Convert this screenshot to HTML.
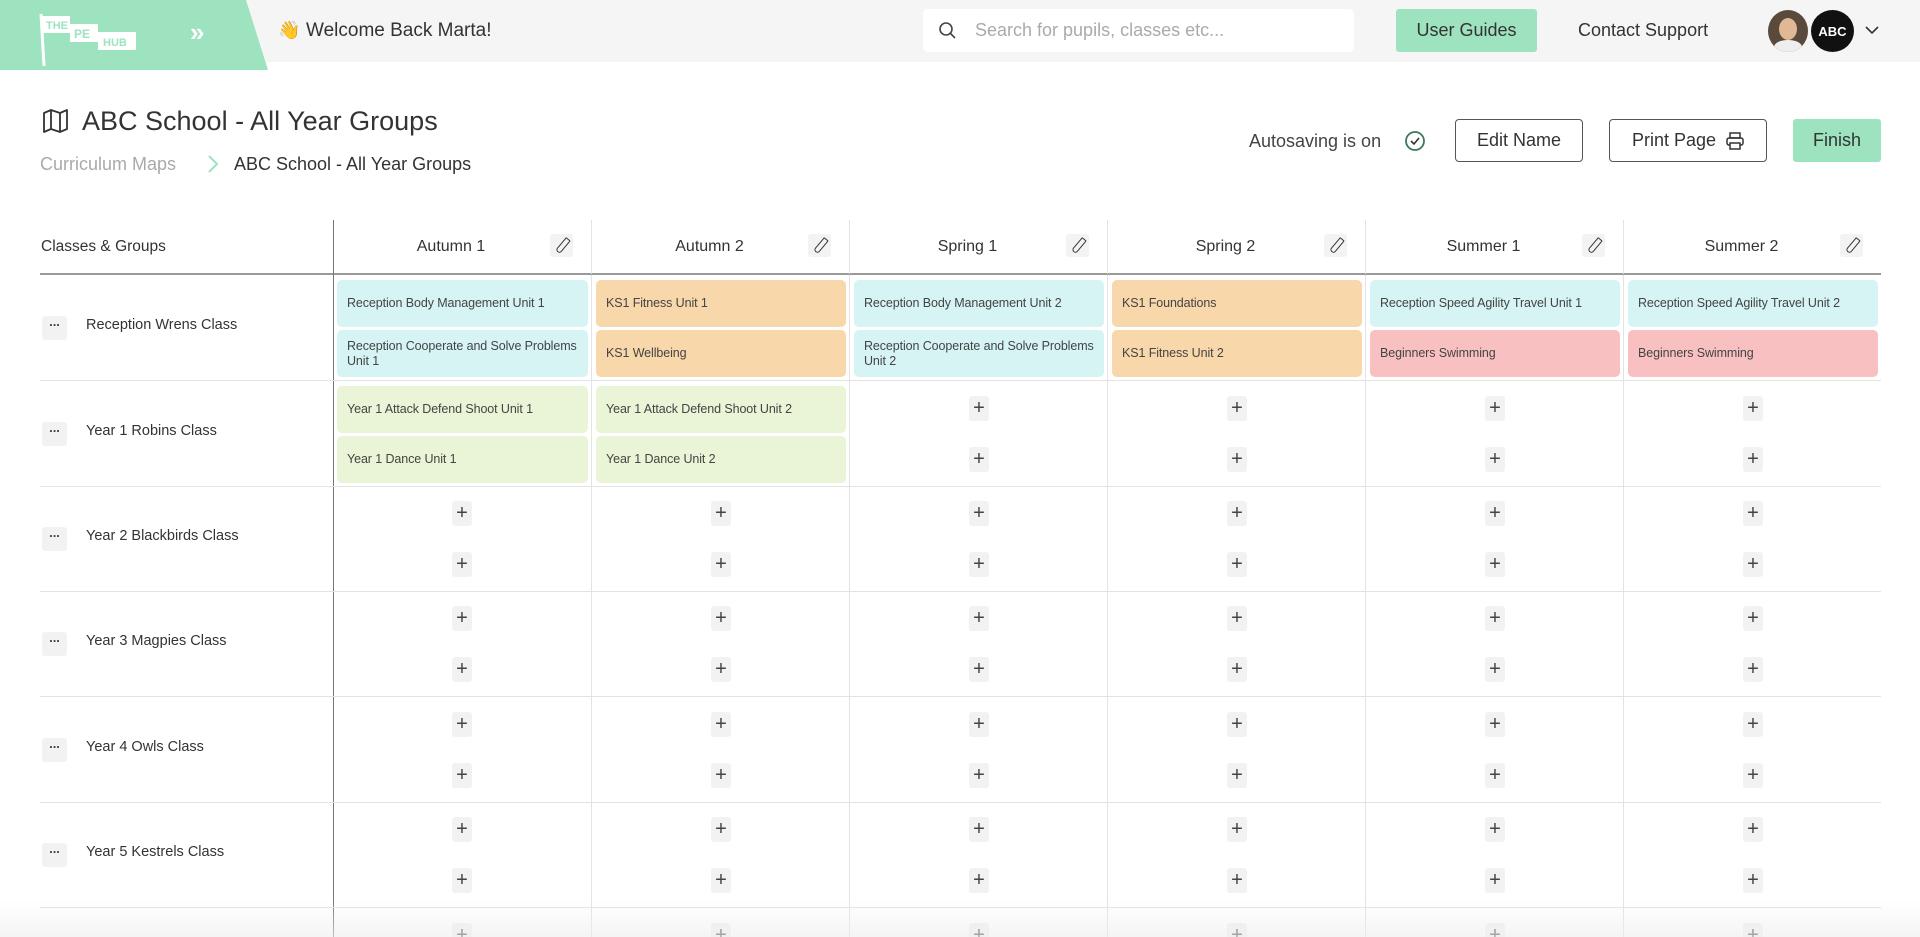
<!DOCTYPE html>
<html style="width:1920px;height:937px;overflow:hidden"><head><meta charset="utf-8">
<style>
*{box-sizing:border-box;margin:0;padding:0}
body{width:1920px;height:937px;overflow:hidden;background:#fff;font-family:"Liberation Sans",sans-serif;color:#333;position:relative}
.top{position:absolute;left:0;top:0;width:1920px;height:62px;background:#f5f5f5}
.green{position:absolute;left:0;top:0;width:268px;height:70px;background:#9de3bf;clip-path:polygon(0 0,246px 0,268px 70px,0 70px)}
.abs{position:absolute}
.btn{position:absolute;border:1.5px solid #555;border-radius:4px;font-size:18px;display:flex;align-items:center;justify-content:center;color:#333;background:#fff}
.row{position:absolute;left:40px;width:1841px;height:106px;border-bottom:1px solid #e3e3e3}
.cell{position:absolute;top:0;height:105px;width:258px;border-left:1px solid #e3e3e3}
.card{position:absolute;left:4px;right:3px;height:47px;border-radius:5px;font-size:12.5px;color:#444;padding:0 10px;display:flex;align-items:center;line-height:15px;letter-spacing:-0.1px}
.s1{top:5px}.s2{top:55px}
.b{background:#d5f4f3}.o{background:#f8d7ab}.g{background:#e9f5d6}.r{background:#f8c0c0}
.plus{position:absolute;left:119px;width:20px;height:25px;background:#f2f2f2;border-radius:3px;font-size:20px;line-height:24px;text-align:center;color:#444}
.p1{top:15px}.p2{top:66px}
.name{position:absolute;left:46px;top:42px;font-size:14.5px;color:#333}
.dots{position:absolute;left:2px;top:41px;width:25px;height:24px;background:#f2f2f2;border-radius:3px;font-size:13px;text-align:center;line-height:12px;font-weight:bold;color:#444}
.hc{position:absolute;top:0;height:54px;width:258px;border-left:1px solid #e3e3e3;font-size:16px;display:flex;align-items:center;justify-content:center;padding-right:22px}
.pen{position:absolute;right:18px;top:14px;width:23px;height:23px;background:#f3f3f3;border-radius:3px}
.pen::before{content:"";position:absolute;left:10px;top:3px;width:4px;height:15px;border:1.5px solid #333;border-radius:1px 1px 3px 3px;transform:rotate(40deg)}
</style></head><body>
<div class="top"></div>
<div class="green"></div>
<svg class="abs" style="left:38px;top:12px" width="105" height="58" viewBox="0 0 105 58"><path d="M3 2 L6 54" stroke="#fff" stroke-width="3"/><rect x="4" y="4" width="28" height="17" fill="#fff"/><text x="8" y="17" font-size="11" font-weight="bold" fill="#9de3bf" font-family="Liberation Sans">THE</text><rect x="32" y="12" width="28" height="18" fill="#fff"/><text x="36" y="26" font-size="12" font-weight="bold" fill="#9de3bf" font-family="Liberation Sans">PE</text><rect x="60" y="20" width="38" height="18" fill="#fff"/><text x="65" y="34" font-size="11" font-weight="bold" fill="#9de3bf" font-family="Liberation Sans">HUB</text></svg>
<div class="abs" style="left:190px;top:17px;color:#fff;font-size:26px;font-weight:bold">»</div>
<div class="abs" style="left:278px;top:20px;font-size:18px">👋</div>
<div class="abs" style="left:306px;top:20px;font-size:19px;color:#333">Welcome Back Marta!</div>
<div class="abs" style="left:923px;top:9px;width:431px;height:43px;background:#fff;border-radius:5px"></div>
<svg class="abs" style="left:938px;top:21px" width="20" height="20"><circle cx="8" cy="8" r="6" stroke="#444" stroke-width="1.6" fill="none"/><path d="M12.5 12.5 L17 17" stroke="#444" stroke-width="1.6"/></svg>
<div class="abs" style="left:975px;top:20px;font-size:18px;color:#aaa">Search for pupils, classes etc...</div>
<div class="abs" style="left:1396px;top:9px;width:141px;height:43px;background:#9de3bf;border-radius:3px;font-size:18px;display:flex;align-items:center;justify-content:center;color:#333">User Guides</div>
<div class="abs" style="left:1578px;top:20px;font-size:18px;color:#333">Contact Support</div>
<div class="abs" style="left:1768px;top:10px;width:40px;height:42px;border-radius:50%;background:#5a4a3c;overflow:hidden"><div style="position:absolute;left:11px;top:8px;width:18px;height:22px;border-radius:50%;background:#e0b896"></div><div style="position:absolute;left:6px;top:30px;width:28px;height:14px;border-radius:50%;background:#eee"></div></div>
<div class="abs" style="left:1811px;top:10px;width:43px;height:42px;border-radius:50%;background:#111;color:#fff;font-size:13px;font-weight:bold;display:flex;align-items:center;justify-content:center">ABC</div>
<svg class="abs" style="left:1864px;top:24px" width="16" height="12"><path d="M2 3 L8 9 L14 3" stroke="#333" stroke-width="1.6" fill="none"/></svg>

<svg class="abs" style="left:42px;top:108px" width="28" height="26"><path d="M2 5 L9 2 L18 5 L25 2 L25 21 L18 24 L9 21 L2 24 Z M9 2 L9 21 M18 5 L18 24" stroke="#333" stroke-width="1.8" fill="none" stroke-linejoin="round"/></svg>
<div class="abs" style="left:82px;top:106px;font-size:27px;color:#333">ABC School - All Year Groups</div>
<div class="abs" style="left:40px;top:154px;font-size:18px;color:#aaa">Curriculum Maps</div>
<svg class="abs" style="left:206px;top:154px" width="14" height="20"><path d="M3 2 L11 10 L3 18" stroke="#9de3bf" stroke-width="2" fill="none"/></svg>
<div class="abs" style="left:234px;top:154px;font-size:18px;color:#333">ABC School - All Year Groups</div>

<div class="abs" style="left:1249px;top:131px;font-size:18px;color:#444">Autosaving is on</div>
<svg class="abs" style="left:1404px;top:130px" width="22" height="22"><circle cx="11" cy="11" r="9" stroke="#3a7a5a" stroke-width="1.8" fill="none"/><path d="M7 11 L10 14 L15 8" stroke="#333" stroke-width="1.6" fill="none"/></svg>
<div class="btn" style="left:1455px;top:119px;width:128px;height:43px">Edit Name</div>
<div class="btn" style="left:1609px;top:119px;width:158px;height:43px">Print Page&nbsp;&nbsp;<svg width="18" height="18"><rect x="4" y="1" width="10" height="5" stroke="#333" stroke-width="1.5" fill="none"/><rect x="1" y="6" width="16" height="7" rx="2" stroke="#333" stroke-width="1.5" fill="none"/><rect x="4" y="11" width="10" height="6" stroke="#333" stroke-width="1.5" fill="#fff"/></svg></div>
<div class="abs" style="left:1793px;top:119px;width:88px;height:43px;background:#9de3bf;border-radius:3px;font-size:18px;display:flex;align-items:center;justify-content:center;color:#333">Finish</div>

<div class="abs" style="left:40px;top:220px;width:1841px;height:55px;border-bottom:2px solid #999">
<div class="abs" style="left:1px;top:18px;font-size:15.5px;color:#333">Classes &amp; Groups</div>
<div class="hc" style="left:293px;border-left:none">Autumn 1<div class="pen"></div></div>
<div class="hc" style="left:551px">Autumn 2<div class="pen"></div></div>
<div class="hc" style="left:809px">Spring 1<div class="pen"></div></div>
<div class="hc" style="left:1067px">Spring 2<div class="pen"></div></div>
<div class="hc" style="left:1325px">Summer 1<div class="pen"></div></div>
<div class="hc" style="left:1583px">Summer 2<div class="pen"></div></div>
</div>
<div class="abs" style="left:333px;top:220px;width:1px;height:717px;background:#777"></div>

<div class="row" style="top:275px"><div class="dots">...</div><div class="name">Reception Wrens Class</div>
<div class="cell" style="left:293px;border-left:none"><div class="card b s1">Reception Body Management Unit 1</div><div class="card b s2">Reception Cooperate and Solve Problems Unit 1</div></div>
<div class="cell" style="left:551px"><div class="card o s1">KS1 Fitness Unit 1</div><div class="card o s2">KS1 Wellbeing</div></div>
<div class="cell" style="left:809px"><div class="card b s1">Reception Body Management Unit 2</div><div class="card b s2">Reception Cooperate and Solve Problems Unit 2</div></div>
<div class="cell" style="left:1067px"><div class="card o s1">KS1 Foundations</div><div class="card o s2">KS1 Fitness Unit 2</div></div>
<div class="cell" style="left:1325px"><div class="card b s1">Reception Speed Agility Travel Unit 1</div><div class="card r s2">Beginners Swimming</div></div>
<div class="cell" style="left:1583px"><div class="card b s1">Reception Speed Agility Travel Unit 2</div><div class="card r s2">Beginners Swimming</div></div>
</div>

<div class="row" style="top:381px"><div class="dots">...</div><div class="name">Year 1 Robins Class</div>
<div class="cell" style="left:293px;border-left:none"><div class="card g s1">Year 1 Attack Defend Shoot Unit 1</div><div class="card g s2">Year 1 Dance Unit 1</div></div>
<div class="cell" style="left:551px"><div class="card g s1">Year 1 Attack Defend Shoot Unit 2</div><div class="card g s2">Year 1 Dance Unit 2</div></div>
<div class="cell" style="left:809px"><div class="plus p1">+</div><div class="plus p2">+</div></div>
<div class="cell" style="left:1067px"><div class="plus p1">+</div><div class="plus p2">+</div></div>
<div class="cell" style="left:1325px"><div class="plus p1">+</div><div class="plus p2">+</div></div>
<div class="cell" style="left:1583px"><div class="plus p1">+</div><div class="plus p2">+</div></div>
</div>

<div class="row" style="top:486px"><div class="dots">...</div><div class="name">Year 2 Blackbirds Class</div>
<div class="cell" style="left:293px;border-left:none"><div class="plus p1">+</div><div class="plus p2">+</div></div>
<div class="cell" style="left:551px"><div class="plus p1">+</div><div class="plus p2">+</div></div>
<div class="cell" style="left:809px"><div class="plus p1">+</div><div class="plus p2">+</div></div>
<div class="cell" style="left:1067px"><div class="plus p1">+</div><div class="plus p2">+</div></div>
<div class="cell" style="left:1325px"><div class="plus p1">+</div><div class="plus p2">+</div></div>
<div class="cell" style="left:1583px"><div class="plus p1">+</div><div class="plus p2">+</div></div>
</div>

<div class="row" style="top:591px"><div class="dots">...</div><div class="name">Year 3 Magpies Class</div>
<div class="cell" style="left:293px;border-left:none"><div class="plus p1">+</div><div class="plus p2">+</div></div>
<div class="cell" style="left:551px"><div class="plus p1">+</div><div class="plus p2">+</div></div>
<div class="cell" style="left:809px"><div class="plus p1">+</div><div class="plus p2">+</div></div>
<div class="cell" style="left:1067px"><div class="plus p1">+</div><div class="plus p2">+</div></div>
<div class="cell" style="left:1325px"><div class="plus p1">+</div><div class="plus p2">+</div></div>
<div class="cell" style="left:1583px"><div class="plus p1">+</div><div class="plus p2">+</div></div>
</div>

<div class="row" style="top:697px"><div class="dots">...</div><div class="name">Year 4 Owls Class</div>
<div class="cell" style="left:293px;border-left:none"><div class="plus p1">+</div><div class="plus p2">+</div></div>
<div class="cell" style="left:551px"><div class="plus p1">+</div><div class="plus p2">+</div></div>
<div class="cell" style="left:809px"><div class="plus p1">+</div><div class="plus p2">+</div></div>
<div class="cell" style="left:1067px"><div class="plus p1">+</div><div class="plus p2">+</div></div>
<div class="cell" style="left:1325px"><div class="plus p1">+</div><div class="plus p2">+</div></div>
<div class="cell" style="left:1583px"><div class="plus p1">+</div><div class="plus p2">+</div></div>
</div>

<div class="row" style="top:802px"><div class="dots">...</div><div class="name">Year 5 Kestrels Class</div>
<div class="cell" style="left:293px;border-left:none"><div class="plus p1">+</div><div class="plus p2">+</div></div>
<div class="cell" style="left:551px"><div class="plus p1">+</div><div class="plus p2">+</div></div>
<div class="cell" style="left:809px"><div class="plus p1">+</div><div class="plus p2">+</div></div>
<div class="cell" style="left:1067px"><div class="plus p1">+</div><div class="plus p2">+</div></div>
<div class="cell" style="left:1325px"><div class="plus p1">+</div><div class="plus p2">+</div></div>
<div class="cell" style="left:1583px"><div class="plus p1">+</div><div class="plus p2">+</div></div>
</div>

<div class="row" style="top:908px;height:29px;border-bottom:none;overflow:hidden">
<div class="cell" style="left:293px;border-left:none;height:29px"><div class="plus p1">+</div></div>
<div class="cell" style="left:551px;height:29px"><div class="plus p1">+</div></div>
<div class="cell" style="left:809px;height:29px"><div class="plus p1">+</div></div>
<div class="cell" style="left:1067px;height:29px"><div class="plus p1">+</div></div>
<div class="cell" style="left:1325px;height:29px"><div class="plus p1">+</div></div>
<div class="cell" style="left:1583px;height:29px"><div class="plus p1">+</div></div>
</div>
<div class="abs" style="left:0;top:900px;width:1920px;height:37px;background:linear-gradient(rgba(245,245,245,0),rgba(238,238,238,0.6))"></div>
</body></html>
